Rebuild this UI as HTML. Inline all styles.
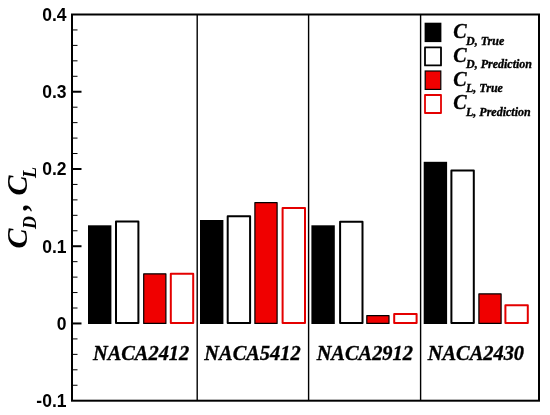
<!DOCTYPE html><html><head><meta charset="utf-8"><style>html,body{margin:0;padding:0;background:#fff;width:550px;height:415px;overflow:hidden}svg{display:block}.tk{font-family:"Liberation Sans",Arial,sans-serif;font-weight:bold;font-size:17.5px;fill:#000}.sr{font-family:"Liberation Serif","Times New Roman",serif;font-weight:bold;font-style:italic;fill:#000;stroke:#000;stroke-width:0.35px}</style></head><body><svg width="550" height="415" viewBox="0 0 550 415"><rect x="0" y="0" width="550" height="415" fill="#fff"/><rect x="88.00" y="225.30" width="23.40" height="98.70" fill="#000"/><rect x="116.00" y="221.40" width="22.40" height="101.60" fill="#fff" stroke="#000" stroke-width="2" stroke-linejoin="round"/><rect x="143.70" y="273.80" width="22.20" height="49.60" fill="#f00000" stroke="#000" stroke-width="1.2" stroke-linejoin="round"/><rect x="170.80" y="273.70" width="22.40" height="49.30" fill="#fff" stroke="#e40000" stroke-width="2" stroke-linejoin="round"/><rect x="200.00" y="220.00" width="23.40" height="104.00" fill="#000"/><rect x="227.70" y="216.20" width="22.40" height="106.80" fill="#fff" stroke="#000" stroke-width="2" stroke-linejoin="round"/><rect x="254.90" y="202.60" width="22.20" height="120.80" fill="#f00000" stroke="#000" stroke-width="1.2" stroke-linejoin="round"/><rect x="282.60" y="208.10" width="22.40" height="114.90" fill="#fff" stroke="#e40000" stroke-width="2" stroke-linejoin="round"/><rect x="311.40" y="225.30" width="23.40" height="98.70" fill="#000"/><rect x="340.10" y="221.80" width="22.40" height="101.20" fill="#fff" stroke="#000" stroke-width="2" stroke-linejoin="round"/><rect x="366.80" y="315.60" width="22.20" height="7.80" fill="#f00000" stroke="#000" stroke-width="1.2" stroke-linejoin="round"/><rect x="394.20" y="314.10" width="22.40" height="8.90" fill="#fff" stroke="#e40000" stroke-width="2" stroke-linejoin="round"/><rect x="423.70" y="161.80" width="23.40" height="162.20" fill="#000"/><rect x="451.40" y="170.40" width="22.40" height="152.60" fill="#fff" stroke="#000" stroke-width="2" stroke-linejoin="round"/><rect x="478.90" y="293.90" width="22.20" height="29.50" fill="#f00000" stroke="#000" stroke-width="1.2" stroke-linejoin="round"/><rect x="505.40" y="305.30" width="22.40" height="17.70" fill="#fff" stroke="#e40000" stroke-width="2" stroke-linejoin="round"/><line x1="197.2" y1="14.5" x2="197.2" y2="400.7" stroke="#000" stroke-width="1.4"/><line x1="308.6" y1="14.5" x2="308.6" y2="400.7" stroke="#000" stroke-width="1.4"/><line x1="420.6" y1="14.5" x2="420.6" y2="400.7" stroke="#000" stroke-width="1.4"/><rect x="72" y="14.5" width="467" height="386.2" fill="none" stroke="#000" stroke-width="2"/><line x1="72" y1="29.95" x2="77.50" y2="29.95" stroke="#000" stroke-width="1"/><line x1="72" y1="45.40" x2="77.50" y2="45.40" stroke="#000" stroke-width="1"/><line x1="72" y1="60.84" x2="77.50" y2="60.84" stroke="#000" stroke-width="1"/><line x1="72" y1="76.29" x2="77.50" y2="76.29" stroke="#000" stroke-width="1"/><line x1="72" y1="91.74" x2="81.50" y2="91.74" stroke="#000" stroke-width="2"/><line x1="72" y1="107.19" x2="77.50" y2="107.19" stroke="#000" stroke-width="1"/><line x1="72" y1="122.64" x2="77.50" y2="122.64" stroke="#000" stroke-width="1"/><line x1="72" y1="138.08" x2="77.50" y2="138.08" stroke="#000" stroke-width="1"/><line x1="72" y1="153.53" x2="77.50" y2="153.53" stroke="#000" stroke-width="1"/><line x1="72" y1="168.98" x2="81.50" y2="168.98" stroke="#000" stroke-width="2"/><line x1="72" y1="184.43" x2="77.50" y2="184.43" stroke="#000" stroke-width="1"/><line x1="72" y1="199.88" x2="77.50" y2="199.88" stroke="#000" stroke-width="1"/><line x1="72" y1="215.32" x2="77.50" y2="215.32" stroke="#000" stroke-width="1"/><line x1="72" y1="230.77" x2="77.50" y2="230.77" stroke="#000" stroke-width="1"/><line x1="72" y1="246.22" x2="81.50" y2="246.22" stroke="#000" stroke-width="2"/><line x1="72" y1="261.67" x2="77.50" y2="261.67" stroke="#000" stroke-width="1"/><line x1="72" y1="277.12" x2="77.50" y2="277.12" stroke="#000" stroke-width="1"/><line x1="72" y1="292.56" x2="77.50" y2="292.56" stroke="#000" stroke-width="1"/><line x1="72" y1="308.01" x2="77.50" y2="308.01" stroke="#000" stroke-width="1"/><line x1="72" y1="323.46" x2="81.50" y2="323.46" stroke="#000" stroke-width="2"/><line x1="72" y1="338.91" x2="77.50" y2="338.91" stroke="#000" stroke-width="1"/><line x1="72" y1="354.36" x2="77.50" y2="354.36" stroke="#000" stroke-width="1"/><line x1="72" y1="369.80" x2="77.50" y2="369.80" stroke="#000" stroke-width="1"/><line x1="72" y1="385.25" x2="77.50" y2="385.25" stroke="#000" stroke-width="1"/><text class="tk" x="66.5" y="20.90" text-anchor="end">0.4</text><text class="tk" x="66.5" y="98.14" text-anchor="end">0.3</text><text class="tk" x="66.5" y="175.38" text-anchor="end">0.2</text><text class="tk" x="66.5" y="252.62" text-anchor="end">0.1</text><text class="tk" x="66.5" y="329.86" text-anchor="end">0</text><text class="tk" x="66.5" y="407.10" text-anchor="end">-0.1</text><text class="sr" x="141.1" y="359.8" font-size="20.4" text-anchor="middle">NACA2412</text><text class="sr" x="252.5" y="359.8" font-size="20.4" text-anchor="middle">NACA5412</text><text class="sr" x="364.8" y="359.8" font-size="20.4" text-anchor="middle">NACA2912</text><text class="sr" x="475.9" y="359.8" font-size="20.4" text-anchor="middle">NACA2430</text><rect x="424.6" y="22.7" width="16.8" height="19.4" fill="#000"/><rect x="425" y="47.4" width="16" height="18" fill="#fff" stroke="#000" stroke-width="1.8" stroke-linejoin="round"/><rect x="425.2" y="71.0" width="15.6" height="18.4" fill="#f00000" stroke="#000" stroke-width="1.2"/><rect x="425" y="95.0" width="16" height="18" fill="#fff" stroke="#e40000" stroke-width="1.8" stroke-linejoin="round"/><text class="sr" x="453.3" y="38.00" font-size="20">C<tspan font-size="12" dx="-0.6" dy="6.5">D, True</tspan></text><text class="sr" x="453.3" y="61.70" font-size="20">C<tspan font-size="12" dx="-0.6" dy="6.5">D, Prediction</tspan></text><text class="sr" x="453.3" y="85.70" font-size="20">C<tspan font-size="12" dx="-0.6" dy="6.5">L, True</tspan></text><text class="sr" x="453.3" y="109.30" font-size="20">C<tspan font-size="12" dx="-0.6" dy="6.5">L, Prediction</tspan></text><text class="sr" transform="translate(27.3,247.9) rotate(-90)" font-size="30" style="stroke:none"><tspan dx="-0.6">C</tspan><tspan font-size="18" dx="-0.6" dy="9">D</tspan><tspan dx="-2.0" dy="-9"> , C</tspan><tspan font-size="18" dx="-2.4" dy="9">L</tspan></text></svg></body></html>
